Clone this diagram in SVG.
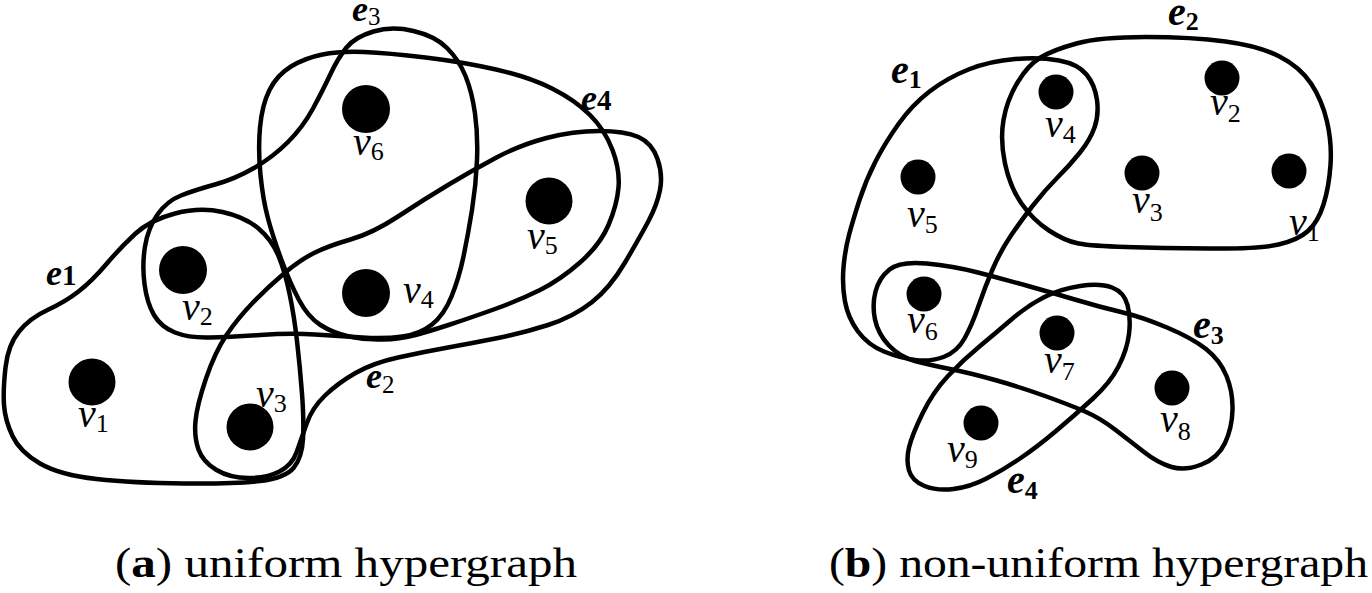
<svg xmlns="http://www.w3.org/2000/svg" width="1372" height="593" viewBox="0 0 1372 593">
<style>
text{font-family:'Liberation Serif','Times New Roman',Times,serif;fill:#000}
.edge{fill:none;stroke:#000;stroke-width:4.5;stroke-linejoin:round}
.dot{fill:#000}
.vl{font-style:italic;font-size:40px}
.vs{font-style:normal;font-size:26px}
.el{font-style:italic;font-weight:bold;font-size:36px}
.elb{font-style:italic;font-weight:bold;font-size:40px}
.es{font-style:normal;font-weight:normal;font-size:25px}
.esb{font-style:normal;font-weight:bold;font-size:29px}
.cap{font-size:42px}
</style>
<rect width="1372" height="593" fill="#fff"/>

<!-- Panel (a) -->
<g id="hyperedges-a">
<path id="a-e4" class="edge" d="M322.5,54.5 Q340,51 364,52 Q388,53 425.5,57.5 Q463,62 496,69.5 Q529,77 552,88.5 Q575,100 590,115 Q605,130 612.5,150 Q620,170 618.5,187.5 Q617,205 608.5,225 Q600,245 580,262.5 Q560,280 540,290 Q520,300 495,309 Q470,318 448.5,325 Q427,332 413.5,335.5 Q400,339 382.5,339.5 Q365,340 349,336.5 Q333,333 320.5,325 Q308,317 299,300 Q290,283 281.5,260 Q273,237 268,218.5 Q263,200 260.5,175 Q258,150 260,127.5 Q262,105 269.5,90 Q277,75 291,66.5 Q305,58 322.5,54.5 Z"/>
<path id="a-e3" class="edge" d="M373.5,31.5 Q392,26 413.5,31 Q435,36 447,48 Q459,60 465.5,76 Q472,92 475,113.5 Q478,135 477,160 Q476,185 472,210 Q468,235 463.5,256.5 Q459,278 451.5,296.5 Q444,315 432,324.5 Q420,334 402.5,336.5 Q385,339 362.5,337.5 Q340,336 315,334.5 Q290,333 260,335 Q230,337 209.5,337.5 Q189,338 175,332.5 Q161,327 154,315 Q147,303 144.5,284 Q142,265 145,246.5 Q148,228 157.5,214.5 Q167,201 181,195.5 Q195,190 215,184.5 Q235,179 254,168 Q273,157 288,142 Q303,127 313,108.5 Q323,90 330.5,74 Q338,58 346.5,47.5 Q355,37 373.5,31.5 Z"/>
<path id="a-e2" class="edge" d="M546.5,138 Q573,131 599,131 Q625,131 638.5,137 Q652,143 657.5,159 Q663,175 660,190 Q657,205 648.5,221 Q640,237 625,262.5 Q610,288 591.5,302.5 Q573,317 548,325 Q523,333 498,338 Q473,343 448,347.5 Q423,352 398,357.5 Q373,363 355.5,373 Q338,383 325,395.5 Q312,408 306.5,424 Q301,440 296.5,452.5 Q292,465 279.5,471.5 Q267,478 248.5,478 Q230,478 216.5,470 Q203,462 198.5,449.5 Q194,437 195.5,421 Q197,405 206,378.5 Q215,352 226.5,335 Q238,318 253,302.5 Q268,287 284,273.5 Q300,260 314,253 Q328,246 350.5,239.5 Q373,233 398,216.5 Q423,200 448,185 Q473,170 496.5,157.5 Q520,145 546.5,138 Z"/>
<path id="a-e1" class="edge" d="M4,405 Q3,390 5.5,367.5 Q8,345 19,331.5 Q30,318 47.5,310 Q65,302 78.5,291.5 Q92,281 106,264.5 Q120,248 135,234 Q150,220 175,213.5 Q200,207 222.5,212 Q245,217 258.5,228.5 Q272,240 278.5,256 Q285,272 289.5,293.5 Q294,315 297,341 Q300,367 302,393.5 Q304,420 303,439 Q302,458 293.5,468 Q285,478 260,481 Q235,484 184,483.5 Q133,483 96.5,479 Q60,475 40,463.5 Q20,452 12.5,436 Q5,420 4,405 Z"/>
</g>
<g id="a-edge-labels">
<text class="el" x="46" y="285">e<tspan class="esb">1</tspan></text>
<text class="el" x="366" y="388">e<tspan class="es" dy="5">2</tspan></text>
<text class="el" x="352" y="21">e<tspan class="es" dy="4">3</tspan></text>
<text class="el" x="581" y="110">e<tspan class="esb">4</tspan></text>
</g>
<g id="a-v1"><circle class="dot" cx="92" cy="382" r="23.5"/><text class="vl" x="78" y="427">v<tspan class="vs" dy="5">1</tspan></text></g>
<g id="a-v2"><circle class="dot" cx="183" cy="270" r="24"/><text class="vl" x="182" y="320">v<tspan class="vs" dy="5">2</tspan></text></g>
<g id="a-v3"><circle class="dot" cx="250" cy="427" r="23.5"/><text class="vl" x="256" y="407">v<tspan class="vs" dy="5">3</tspan></text></g>
<g id="a-v4"><circle class="dot" cx="366" cy="293" r="24"/><text class="vl" x="403" y="303">v<tspan class="vs" dy="5">4</tspan></text></g>
<g id="a-v5"><circle class="dot" cx="549" cy="201" r="23.5"/><text class="vl" x="527" y="249">v<tspan class="vs" dy="5">5</tspan></text></g>
<g id="a-v6"><circle class="dot" cx="366" cy="109" r="24"/><text class="vl" x="353" y="155">v<tspan class="vs" dy="5">6</tspan></text></g>

<!-- Panel (b) -->
<g id="hyperedges-b">
<path id="b-e2" class="edge" d="M1040.5,57.5 Q1053,50 1076.5,43.5 Q1100,37 1146,37 Q1192,37 1225.5,41.5 Q1259,46 1279.5,56.5 Q1300,67 1311,83.5 Q1322,100 1327,121.5 Q1332,143 1330.5,165 Q1329,187 1323.5,204.5 Q1318,222 1308,231 Q1298,240 1278.5,244.5 Q1259,249 1209.5,248.5 Q1160,248 1126,247 Q1092,246 1078.5,243.5 Q1065,241 1049,230.5 Q1033,220 1021.5,203.5 Q1010,187 1005,163.5 Q1000,140 1003.5,120 Q1007,100 1017.5,82.5 Q1028,65 1040.5,57.5 Z"/>
<path id="b-e1" class="edge" d="M1015,59 Q1040,57 1059,60.5 Q1078,64 1086.5,74.5 Q1095,85 1097,100 Q1099,115 1094.5,127.5 Q1090,140 1080,152.5 Q1070,165 1057.5,177.5 Q1045,190 1032.5,206 Q1020,222 1010,237 Q1000,252 992.5,269.5 Q985,287 978.5,306 Q972,325 964.5,338.5 Q957,352 943.5,357 Q930,362 915,360 Q900,358 884,351.5 Q868,345 858,331.5 Q848,318 845,301.5 Q842,285 843.5,267.5 Q845,250 849,235 Q853,220 859.5,200 Q866,180 875.5,161.5 Q885,143 898.5,124 Q912,105 929.5,91.5 Q947,78 968.5,69.5 Q990,61 1015,59 Z"/>
<path id="b-e3" class="edge" d="M889.5,269.5 Q900,261 926.5,263.5 Q953,266 978,272.5 Q1003,279 1028,286 Q1053,293 1076.5,300 Q1100,307 1121,312 Q1142,317 1167,327.5 Q1192,338 1206,349 Q1220,360 1226.5,376 Q1233,392 1232.5,410 Q1232,428 1225,443 Q1218,458 1201.5,464.5 Q1185,471 1171.5,467 Q1158,463 1144,452 Q1130,441 1115,429.5 Q1100,418 1085,411.5 Q1070,405 1045,396 Q1020,387 995,380 Q970,373 950,369 Q930,365 915,361 Q900,357 889,345.5 Q878,334 875,319.5 Q872,305 875.5,291.5 Q879,278 889.5,269.5 Z"/>
<path id="b-e4" class="edge" d="M1043.5,297.5 Q1060,289 1080,286 Q1100,283 1112,287.5 Q1124,292 1127.5,305 Q1131,318 1129,334 Q1127,350 1118.5,366.5 Q1110,383 1092.5,399 Q1075,415 1056,431 Q1037,447 1020,458.5 Q1003,470 986.5,478.5 Q970,487 953.5,489 Q937,491 924.5,486 Q912,481 909,470.5 Q906,460 909,447.5 Q912,435 922.5,413.5 Q933,392 948,376 Q963,360 980,346 Q997,332 1012,319 Q1027,306 1043.5,297.5 Z"/>
</g>
<g id="b-edge-labels">
<text class="elb" x="891" y="83">e<tspan class="vs" dy="5">1</tspan></text>
<text class="elb" x="1168" y="25">e<tspan class="vs" dy="5">2</tspan></text>
<text class="elb" x="1193" y="338">e<tspan class="vs" dy="6">3</tspan></text>
<text class="elb" x="1007" y="493">e<tspan class="vs" dy="6">4</tspan></text>
</g>
<g id="b-v1"><circle class="dot" cx="1289" cy="171" r="17.5"/><text class="vl" x="1289" y="235">v<tspan class="vs" dy="6">1</tspan></text></g>
<g id="b-v2"><circle class="dot" cx="1222" cy="78" r="17.5"/><text class="vl" x="1210" y="115">v<tspan class="vs" dy="7">2</tspan></text></g>
<g id="b-v3"><circle class="dot" cx="1142" cy="173" r="17.5"/><text class="vl" x="1132" y="213">v<tspan class="vs" dy="8">3</tspan></text></g>
<g id="b-v4"><circle class="dot" cx="1056" cy="92" r="17.5"/><text class="vl" x="1045" y="137">v<tspan class="vs" dy="6">4</tspan></text></g>
<g id="b-v5"><circle class="dot" cx="918" cy="177" r="17.5"/><text class="vl" x="907" y="227">v<tspan class="vs" dy="6">5</tspan></text></g>
<g id="b-v6"><circle class="dot" cx="924" cy="294" r="17.5"/><text class="vl" x="907" y="333">v<tspan class="vs" dy="7">6</tspan></text></g>
<g id="b-v7"><circle class="dot" cx="1057" cy="333" r="17.5"/><text class="vl" x="1044" y="373">v<tspan class="vs" dy="7">7</tspan></text></g>
<g id="b-v8"><circle class="dot" cx="1172" cy="388" r="17.5"/><text class="vl" x="1160" y="432">v<tspan class="vs" dy="8">8</tspan></text></g>
<g id="b-v9"><circle class="dot" cx="981" cy="423" r="17.5"/><text class="vl" x="947" y="462">v<tspan class="vs" dy="6">9</tspan></text></g>

<g id="captions">
<text class="cap" x="115" y="577" textLength="462" lengthAdjust="spacingAndGlyphs">(<tspan font-weight="bold">a</tspan>) uniform hypergraph</text>
<text class="cap" x="829" y="577" textLength="539" lengthAdjust="spacingAndGlyphs">(<tspan font-weight="bold">b</tspan>) non-uniform hypergraph</text>
</g>
</svg>
